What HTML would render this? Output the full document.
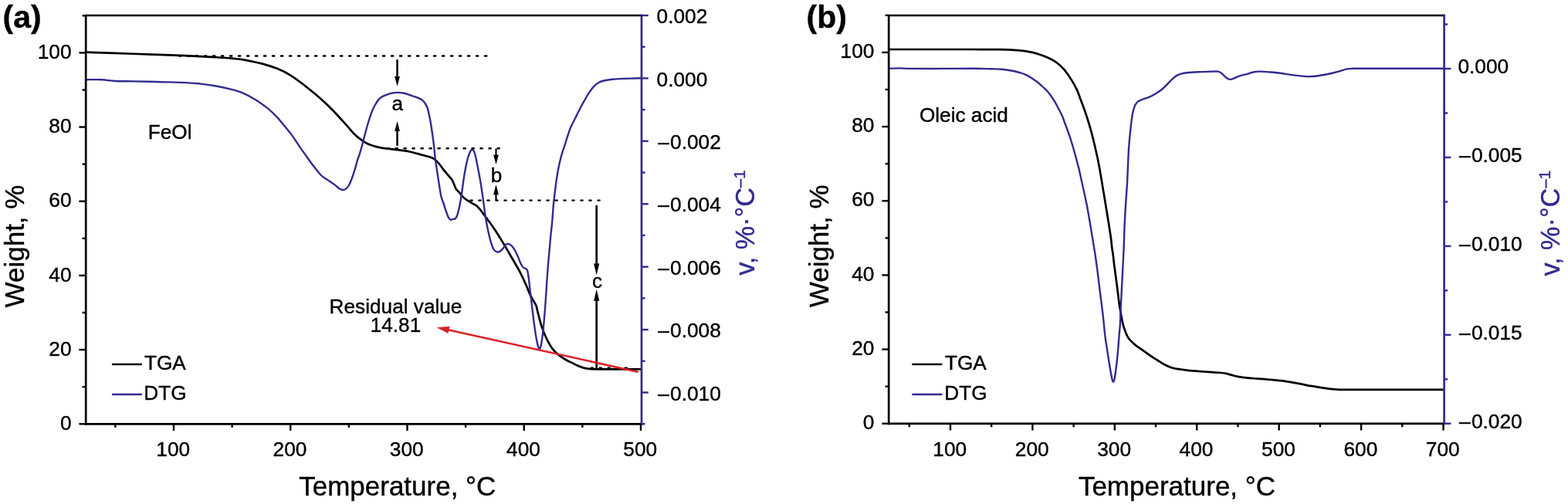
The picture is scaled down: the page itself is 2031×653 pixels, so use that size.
<!DOCTYPE html>
<html lang="en">
<head>
<meta charset="utf-8">
<title>TGA and DTG curves of FeOl and oleic acid</title>
<style>
html,body{margin:0;padding:0;background:#fff;}
body{width:2031px;height:653px;overflow:hidden;}
svg{display:block;}
text{font-family:"Liberation Sans", sans-serif;fill:#000;stroke:#000;stroke-width:0.4px;stroke-linejoin:round;}
.tk{font-size:26.3px;}
.ttl{font-size:35px;}
.pn{font-size:41px;font-weight:bold;}
.an{font-size:26.2px;}
.bl{fill:#322b90;stroke:#322b90;}
</style>
</head>
<body>
<svg width="2031" height="653" viewBox="0 0 2031 653">
<rect x="0" y="0" width="2031" height="653" fill="#ffffff"/>

<path d="M111.00,67.70 C117.33,67.90 134.50,68.42 149.00,68.90 C163.50,69.38 183.70,70.10 198.00,70.60 C212.30,71.10 224.47,71.48 234.80,71.90 C245.13,72.32 252.47,72.72 260.00,73.10 C267.53,73.48 273.33,73.78 280.00,74.20 C286.67,74.62 294.12,75.08 300.00,75.60 C305.88,76.12 310.63,76.57 315.30,77.30 C319.97,78.03 323.88,79.12 328.00,80.00 C332.12,80.88 334.93,81.17 340.00,82.60 C345.07,84.03 352.27,86.07 358.40,88.60 C364.53,91.13 370.68,94.03 376.80,97.80 C382.92,101.57 388.98,106.45 395.10,111.20 C401.22,115.95 407.37,120.88 413.50,126.30 C419.63,131.72 425.77,137.43 431.90,143.70 C438.03,149.97 445.62,158.72 450.30,163.90 C454.98,169.08 456.90,171.80 460.00,174.80 C463.10,177.80 466.13,179.95 468.90,181.90 C471.67,183.85 473.78,185.22 476.60,186.50 C479.42,187.78 483.25,188.83 485.80,189.60 C488.35,190.37 489.53,190.63 491.90,191.10 C494.27,191.57 496.10,191.88 500.00,192.40 C503.90,192.92 510.20,193.52 515.30,194.20 C520.40,194.88 526.48,195.72 530.60,196.50 C534.72,197.28 537.15,198.15 540.00,198.90 C542.85,199.65 545.15,200.32 547.70,201.00 C550.25,201.68 553.02,202.28 555.30,203.00 C557.58,203.72 559.62,204.28 561.40,205.30 C563.18,206.32 564.47,207.57 566.00,209.10 C567.53,210.63 569.18,212.70 570.60,214.50 C572.02,216.30 573.22,218.23 574.50,219.90 C575.78,221.57 576.90,222.85 578.30,224.50 C579.70,226.15 581.63,228.28 582.90,229.80 C584.17,231.32 585.02,232.07 585.90,233.60 C586.78,235.13 587.43,237.20 588.20,239.00 C588.97,240.80 589.35,242.62 590.50,244.40 C591.65,246.18 593.57,247.92 595.10,249.70 C596.63,251.48 598.17,253.57 599.70,255.10 C601.23,256.63 602.52,257.63 604.30,258.90 C606.08,260.17 608.35,261.50 610.40,262.70 C612.45,263.90 615.07,265.07 616.60,266.10 C618.13,267.13 618.45,267.67 619.60,268.90 C620.75,270.13 622.22,271.85 623.50,273.50 C624.78,275.15 625.90,276.90 627.30,278.80 C628.70,280.70 630.57,283.12 631.90,284.90 C633.23,286.68 633.45,286.87 635.30,289.50 C637.15,292.13 640.45,296.80 643.00,300.70 C645.55,304.60 648.05,308.70 650.60,312.90 C653.15,317.10 655.75,321.55 658.30,325.90 C660.85,330.25 663.35,334.53 665.90,339.00 C668.45,343.47 671.10,347.87 673.60,352.70 C676.10,357.53 678.83,363.38 680.90,368.00 C682.97,372.62 684.38,376.88 686.00,380.40 C687.62,383.92 689.18,386.50 690.60,389.10 C692.02,391.70 693.60,393.82 694.50,396.00 C695.40,398.18 695.37,399.65 696.00,402.20 C696.63,404.75 697.42,407.98 698.30,411.30 C699.18,414.62 700.03,418.27 701.30,422.10 C702.57,425.93 704.10,430.22 705.90,434.30 C707.70,438.38 710.05,443.15 712.10,446.60 C714.15,450.05 716.17,452.70 718.20,455.00 C720.23,457.30 721.75,458.48 724.30,460.40 C726.85,462.32 730.88,464.97 733.50,466.50 C736.12,468.03 737.63,468.42 740.00,469.60 C742.37,470.78 745.15,472.47 747.70,473.60 C750.25,474.73 752.75,475.68 755.30,476.40 C757.85,477.12 759.93,477.58 763.00,477.90 C766.07,478.22 767.53,478.23 773.70,478.30 C779.87,478.37 790.45,478.30 800.00,478.30 C809.55,478.30 825.83,478.30 831.00,478.30" fill="none" stroke="#000" stroke-width="2.7" stroke-linejoin="round" stroke-linecap="butt"/>
<path d="M111.00,103.20 C114.48,103.20 125.57,102.90 131.90,103.20 C138.23,103.50 142.07,104.63 149.00,105.00 C155.93,105.37 163.28,105.20 173.50,105.40 C183.72,105.60 200.08,105.95 210.30,106.20 C220.52,106.45 226.52,106.50 234.80,106.90 C243.08,107.30 252.47,107.83 260.00,108.60 C267.53,109.37 273.33,110.28 280.00,111.50 C286.67,112.72 294.12,114.35 300.00,115.90 C305.88,117.45 310.20,118.63 315.30,120.80 C320.40,122.97 325.50,125.77 330.60,128.90 C335.70,132.03 341.30,135.90 345.90,139.60 C350.50,143.30 354.87,147.70 358.20,151.10 C361.53,154.50 362.53,155.92 365.90,160.00 C369.27,164.08 374.78,170.70 378.40,175.60 C382.02,180.50 384.53,184.95 387.60,189.40 C390.67,193.85 393.73,198.02 396.80,202.30 C399.87,206.58 402.95,211.12 406.00,215.10 C409.05,219.08 412.65,223.58 415.10,226.20 C417.55,228.82 418.55,229.27 420.70,230.80 C422.85,232.33 425.87,233.97 428.00,235.40 C430.13,236.83 431.67,237.97 433.50,239.40 C435.33,240.83 437.32,242.90 439.00,244.00 C440.68,245.10 442.07,245.90 443.60,246.00 C445.13,246.10 446.82,245.60 448.20,244.60 C449.58,243.60 450.67,242.15 451.90,240.00 C453.13,237.85 454.37,234.92 455.60,231.70 C456.83,228.48 458.08,224.68 459.30,220.70 C460.52,216.72 461.78,211.42 462.90,207.80 C464.02,204.18 465.00,202.17 466.00,199.00 C467.00,195.83 467.90,192.53 468.90,188.80 C469.90,185.07 470.68,181.48 472.00,176.60 C473.32,171.72 475.27,164.62 476.80,159.50 C478.33,154.38 479.70,149.82 481.20,145.90 C482.70,141.98 484.27,138.80 485.80,136.00 C487.33,133.20 488.88,130.88 490.40,129.10 C491.92,127.32 493.30,126.30 494.90,125.30 C496.50,124.30 497.87,123.87 500.00,123.10 C502.13,122.33 505.15,121.23 507.70,120.70 C510.25,120.17 512.75,119.90 515.30,119.90 C517.85,119.90 520.45,120.18 523.00,120.70 C525.55,121.22 528.05,122.18 530.60,123.00 C533.15,123.82 535.75,124.58 538.30,125.60 C540.85,126.62 543.87,127.75 545.90,129.10 C547.93,130.45 549.22,131.92 550.50,133.70 C551.78,135.48 552.70,137.25 553.60,139.80 C554.50,142.35 555.13,145.42 555.90,149.00 C556.67,152.58 557.43,156.70 558.20,161.30 C558.97,165.90 559.85,171.90 560.50,176.60 C561.15,181.30 561.57,184.72 562.10,189.50 C562.63,194.28 563.05,200.12 563.70,205.30 C564.35,210.48 565.23,215.50 566.00,220.60 C566.77,225.70 567.40,230.28 568.30,235.90 C569.20,241.52 570.37,249.70 571.40,254.30 C572.43,258.90 573.48,260.43 574.50,263.50 C575.52,266.57 576.48,269.77 577.50,272.70 C578.52,275.63 579.58,279.12 580.60,281.10 C581.62,283.08 582.58,284.13 583.60,284.60 C584.62,285.07 585.80,284.05 586.70,283.90 C587.60,283.75 588.23,284.17 589.00,283.70 C589.77,283.23 590.53,282.68 591.30,281.10 C592.07,279.52 592.83,277.13 593.60,274.20 C594.37,271.27 595.13,267.58 595.90,263.50 C596.67,259.42 597.43,254.80 598.20,249.70 C598.97,244.60 599.73,238.00 600.50,232.90 C601.27,227.80 601.92,223.70 602.80,219.10 C603.68,214.50 604.78,209.00 605.80,205.30 C606.82,201.60 607.92,198.82 608.90,196.90 C609.88,194.98 610.80,193.80 611.70,193.80 C612.60,193.80 613.48,194.98 614.30,196.90 C615.12,198.82 615.72,201.35 616.60,205.30 C617.48,209.25 618.58,215.23 619.60,220.60 C620.62,225.97 621.80,232.13 622.70,237.50 C623.60,242.87 624.23,247.45 625.00,252.80 C625.77,258.15 626.67,264.98 627.30,269.60 C627.93,274.22 628.23,276.85 628.80,280.50 C629.37,284.15 629.87,287.25 630.70,291.50 C631.53,295.75 632.78,301.78 633.80,306.00 C634.82,310.22 635.78,313.87 636.80,316.80 C637.82,319.73 638.75,322.00 639.90,323.60 C641.05,325.20 642.42,326.07 643.70,326.40 C644.98,326.73 646.32,326.32 647.60,325.60 C648.88,324.88 650.25,323.45 651.40,322.10 C652.55,320.75 653.48,318.52 654.50,317.50 C655.52,316.48 656.48,316.12 657.50,316.00 C658.52,315.88 659.58,316.22 660.60,316.80 C661.62,317.38 662.45,318.10 663.60,319.50 C664.75,320.90 666.22,322.85 667.50,325.20 C668.78,327.55 670.15,330.92 671.30,333.60 C672.45,336.28 673.38,339.18 674.40,341.30 C675.42,343.42 676.38,345.22 677.40,346.30 C678.42,347.38 679.60,347.23 680.50,347.80 C681.40,348.37 682.22,348.50 682.80,349.70 C683.38,350.90 683.62,352.83 684.00,355.00 C684.38,357.17 684.77,360.03 685.10,362.70 C685.43,365.37 685.60,367.45 686.00,371.00 C686.40,374.55 686.85,378.55 687.50,384.00 C688.15,389.45 689.12,397.35 689.90,403.70 C690.68,410.05 691.43,416.48 692.20,422.10 C692.97,427.72 693.73,433.07 694.50,437.40 C695.27,441.73 696.12,445.68 696.80,448.10 C697.48,450.52 697.97,451.90 698.60,451.90 C699.23,451.90 699.93,450.77 700.60,448.10 C701.27,445.43 701.97,440.75 702.60,435.90 C703.23,431.05 703.85,424.88 704.40,419.00 C704.95,413.12 705.42,406.85 705.90,400.60 C706.38,394.35 706.82,388.60 707.30,381.50 C707.78,374.40 708.28,365.22 708.80,358.00 C709.32,350.78 709.88,344.32 710.40,338.20 C710.92,332.08 711.40,326.92 711.90,321.30 C712.40,315.68 712.90,309.60 713.40,304.50 C713.90,299.40 714.50,294.78 714.90,290.70 C715.30,286.62 715.48,284.15 715.80,280.00 C716.12,275.85 716.37,270.47 716.80,265.80 C717.23,261.13 717.75,257.37 718.40,252.00 C719.05,246.63 719.93,238.97 720.70,233.60 C721.47,228.23 722.12,224.40 723.00,219.80 C723.88,215.20 724.98,210.08 726.00,206.00 C727.02,201.92 728.07,198.62 729.10,195.30 C730.13,191.98 731.25,189.07 732.20,186.10 C733.15,183.13 733.63,181.02 734.80,177.50 C735.97,173.98 737.45,169.12 739.20,165.00 C740.95,160.88 743.27,156.88 745.30,152.80 C747.33,148.72 749.35,144.45 751.40,140.50 C753.45,136.55 755.55,132.67 757.60,129.10 C759.65,125.53 761.67,122.05 763.70,119.10 C765.73,116.15 767.77,113.45 769.80,111.40 C771.83,109.35 773.85,107.95 775.90,106.80 C777.95,105.65 779.53,105.13 782.10,104.50 C784.67,103.87 787.22,103.43 791.30,103.00 C795.38,102.57 801.50,102.15 806.60,101.90 C811.70,101.65 817.83,101.62 821.90,101.50 C825.97,101.38 829.48,101.25 831.00,101.20" fill="none" stroke="#322b90" stroke-width="2.4" stroke-linejoin="round" stroke-linecap="butt"/>
<line x1="232.0" y1="72.5" x2="631.5" y2="72.5" stroke="#000" stroke-width="2.4" stroke-dasharray="2.3 8.7" stroke-dashoffset="0" stroke-linecap="round"/>
<line x1="501.5" y1="192.3" x2="648.5" y2="192.3" stroke="#000" stroke-width="2.4" stroke-dasharray="2.3 8.7" stroke-dashoffset="0" stroke-linecap="round"/>
<line x1="609.4" y1="259.6" x2="778" y2="259.6" stroke="#000" stroke-width="2.4" stroke-dasharray="2.3 8.7" stroke-dashoffset="0" stroke-linecap="round"/>
<line x1="765.7" y1="476.7" x2="813" y2="476.7" stroke="#000" stroke-width="2.4" stroke-dasharray="2.3 8.7" stroke-dashoffset="0" stroke-linecap="round"/>
<line x1="514.55" y1="77.2" x2="514.55" y2="101.10000000000001" stroke="#000" stroke-width="2.5"/><polygon points="514.55,111.7 511.15,99.10000000000001 517.9499999999999,99.10000000000001" fill="#000"/>
<line x1="514.55" y1="188.8" x2="514.55" y2="167.9" stroke="#000" stroke-width="2.5"/><polygon points="514.55,157.3 511.15,169.9 517.9499999999999,169.9" fill="#000"/>
<line x1="642.5" y1="192.5" x2="642.5" y2="202.7" stroke="#000" stroke-width="2.2"/><polygon points="642.5,213.1 639.1,200.7 645.9,200.7" fill="#000"/>
<line x1="642.5" y1="259.3" x2="642.5" y2="250.3" stroke="#000" stroke-width="2.2"/><polygon points="642.5,239.3 639.1,252.3 645.9,252.3" fill="#000"/>
<line x1="772.7" y1="266.1" x2="772.7" y2="343.6" stroke="#000" stroke-width="2.7"/><polygon points="772.7,356.6 769.1,341.6 776.3000000000001,341.6" fill="#000"/>
<line x1="772.7" y1="477.9" x2="772.7" y2="387.8" stroke="#000" stroke-width="2.7"/><polygon points="772.7,374.8 769.1,389.8 776.3000000000001,389.8" fill="#000"/>
<line x1="826.7" y1="482.0" x2="580" y2="427.2" stroke="#da2128" stroke-width="2.5"/>
<polygon points="566.4,424.4 582.3,423.2 580.3,431.6" fill="#da2128" stroke="#da2128" stroke-width="0.6" stroke-linejoin="round"/>
<line x1="146.2" y1="472.0" x2="182.8" y2="472.0" stroke="#000" stroke-width="2.7" stroke-linecap="round"/>
<line x1="146.2" y1="511.0" x2="182.8" y2="511.0" stroke="#322b90" stroke-width="2.7" stroke-linecap="round"/>
<path d="M111.2,549.3 L111.2,20.0 L831.0,20.0" fill="none" stroke="#000" stroke-width="2.7" stroke-linecap="square"/>
<path d="M111.2,549.3 L831.0,549.3" fill="none" stroke="#000" stroke-width="2.7" stroke-linecap="square"/>
<line x1="831.0" y1="18.7" x2="831.0" y2="550.5999999999999" stroke="#322b90" stroke-width="2.7"/>
<line x1="102.4" y1="549.30" x2="111.2" y2="549.30" stroke="#000" stroke-width="2.4"/>
<line x1="106.60000000000001" y1="501.21" x2="111.2" y2="501.21" stroke="#000" stroke-width="2.4"/>
<line x1="102.4" y1="453.12" x2="111.2" y2="453.12" stroke="#000" stroke-width="2.4"/>
<line x1="106.60000000000001" y1="405.03" x2="111.2" y2="405.03" stroke="#000" stroke-width="2.4"/>
<line x1="102.4" y1="356.94" x2="111.2" y2="356.94" stroke="#000" stroke-width="2.4"/>
<line x1="106.60000000000001" y1="308.85" x2="111.2" y2="308.85" stroke="#000" stroke-width="2.4"/>
<line x1="102.4" y1="260.76" x2="111.2" y2="260.76" stroke="#000" stroke-width="2.4"/>
<line x1="106.60000000000001" y1="212.67" x2="111.2" y2="212.67" stroke="#000" stroke-width="2.4"/>
<line x1="102.4" y1="164.58" x2="111.2" y2="164.58" stroke="#000" stroke-width="2.4"/>
<line x1="106.60000000000001" y1="116.49" x2="111.2" y2="116.49" stroke="#000" stroke-width="2.4"/>
<line x1="102.4" y1="68.40" x2="111.2" y2="68.40" stroke="#000" stroke-width="2.4"/>
<line x1="106.60000000000001" y1="20.31" x2="111.2" y2="20.31" stroke="#000" stroke-width="2.4"/>
<line x1="149.38" y1="549.3" x2="149.38" y2="553.9" stroke="#000" stroke-width="2.4"/>
<line x1="225.00" y1="549.3" x2="225.00" y2="558.0999999999999" stroke="#000" stroke-width="2.4"/>
<line x1="300.62" y1="549.3" x2="300.62" y2="553.9" stroke="#000" stroke-width="2.4"/>
<line x1="376.25" y1="549.3" x2="376.25" y2="558.0999999999999" stroke="#000" stroke-width="2.4"/>
<line x1="451.88" y1="549.3" x2="451.88" y2="553.9" stroke="#000" stroke-width="2.4"/>
<line x1="527.50" y1="549.3" x2="527.50" y2="558.0999999999999" stroke="#000" stroke-width="2.4"/>
<line x1="603.12" y1="549.3" x2="603.12" y2="553.9" stroke="#000" stroke-width="2.4"/>
<line x1="678.75" y1="549.3" x2="678.75" y2="558.0999999999999" stroke="#000" stroke-width="2.4"/>
<line x1="754.38" y1="549.3" x2="754.38" y2="553.9" stroke="#000" stroke-width="2.4"/>
<line x1="830.00" y1="549.3" x2="830.00" y2="558.0999999999999" stroke="#000" stroke-width="2.4"/>
<line x1="831.0" y1="549.23" x2="835.6" y2="549.23" stroke="#322b90" stroke-width="2.4"/>
<line x1="831.0" y1="508.52" x2="839.8" y2="508.52" stroke="#322b90" stroke-width="2.4"/>
<line x1="831.0" y1="467.81" x2="835.6" y2="467.81" stroke="#322b90" stroke-width="2.4"/>
<line x1="831.0" y1="427.10" x2="839.8" y2="427.10" stroke="#322b90" stroke-width="2.4"/>
<line x1="831.0" y1="386.39" x2="835.6" y2="386.39" stroke="#322b90" stroke-width="2.4"/>
<line x1="831.0" y1="345.68" x2="839.8" y2="345.68" stroke="#322b90" stroke-width="2.4"/>
<line x1="831.0" y1="304.97" x2="835.6" y2="304.97" stroke="#322b90" stroke-width="2.4"/>
<line x1="831.0" y1="264.26" x2="839.8" y2="264.26" stroke="#322b90" stroke-width="2.4"/>
<line x1="831.0" y1="223.55" x2="835.6" y2="223.55" stroke="#322b90" stroke-width="2.4"/>
<line x1="831.0" y1="182.84" x2="839.8" y2="182.84" stroke="#322b90" stroke-width="2.4"/>
<line x1="831.0" y1="142.13" x2="835.6" y2="142.13" stroke="#322b90" stroke-width="2.4"/>
<line x1="831.0" y1="101.42" x2="839.8" y2="101.42" stroke="#322b90" stroke-width="2.4"/>
<line x1="831.0" y1="60.71" x2="835.6" y2="60.71" stroke="#322b90" stroke-width="2.4"/>
<line x1="831.0" y1="20.00" x2="839.8" y2="20.00" stroke="#322b90" stroke-width="2.4"/>
<text class="tk" x="92.6" y="556.95" text-anchor="end">0</text>
<text class="tk" x="92.6" y="460.77" text-anchor="end">20</text>
<text class="tk" x="92.6" y="364.59" text-anchor="end">40</text>
<text class="tk" x="92.6" y="268.41" text-anchor="end">60</text>
<text class="tk" x="92.6" y="172.23" text-anchor="end">80</text>
<text class="tk" x="92.6" y="76.05" text-anchor="end">100</text>
<text class="tk" x="224.30" y="591.3" text-anchor="middle">100</text>
<text class="tk" x="375.55" y="591.3" text-anchor="middle">200</text>
<text class="tk" x="526.80" y="591.3" text-anchor="middle">300</text>
<text class="tk" x="678.05" y="591.3" text-anchor="middle">400</text>
<text class="tk" x="829.30" y="591.3" text-anchor="middle">500</text>
<text class="tk" x="852.20" y="518.72" text-anchor="start">–<tspan dx="1.2">0.010</tspan></text>
<text class="tk" x="852.20" y="437.30" text-anchor="start">–<tspan dx="1.2">0.008</tspan></text>
<text class="tk" x="852.20" y="355.88" text-anchor="start">–<tspan dx="1.2">0.006</tspan></text>
<text class="tk" x="852.20" y="274.46" text-anchor="start">–<tspan dx="1.2">0.004</tspan></text>
<text class="tk" x="852.20" y="193.04" text-anchor="start">–<tspan dx="1.2">0.002</tspan></text>
<text class="tk" x="850.50" y="111.62" text-anchor="start">0.000</text>
<text class="tk" x="850.50" y="30.20" text-anchor="start">0.002</text>
<text class="pn" x="3.6" y="35.5">(a)</text>
<text class="an" x="191.8" y="179.8">FeOl</text>
<text class="an" x="514.8" y="143" text-anchor="middle">a</text>
<text class="an" x="643" y="236.1" text-anchor="middle">b</text>
<text class="an" x="773.6" y="372.8" text-anchor="middle">c</text>
<text class="an" x="512.5" y="406" text-anchor="middle">Residual value</text>
<text class="an" x="512.5" y="430" text-anchor="middle">14.81</text>
<text class="an" x="187" y="479">TGA</text>
<text class="an" x="186.3" y="518.3">DTG</text>
<text class="ttl" x="514.8" y="641.7" text-anchor="middle">Temperature, °C</text>
<text class="ttl" transform="translate(30.5,319) rotate(-90)" text-anchor="middle">Weight, %</text>
<text class="ttl bl" style="font-size:34.2px" transform="translate(976.8,288.6) rotate(-90)" text-anchor="middle">v, %·°C<tspan dy="-11.5" font-size="20.5">–1</tspan></text>
<path d="M1151.20,64.00 C1159.33,64.00 1181.87,64.00 1200.00,64.00 C1218.13,64.00 1245.00,63.98 1260.00,64.00 C1275.00,64.02 1282.45,64.05 1290.00,64.10 C1297.55,64.15 1300.20,64.10 1305.30,64.30 C1310.40,64.50 1315.50,64.75 1320.60,65.30 C1325.70,65.85 1330.78,66.45 1335.90,67.60 C1341.02,68.75 1347.28,70.80 1351.30,72.20 C1355.32,73.60 1357.02,74.45 1360.00,76.00 C1362.98,77.55 1366.13,79.13 1369.20,81.50 C1372.27,83.87 1375.33,86.60 1378.40,90.20 C1381.47,93.80 1384.85,98.73 1387.60,103.10 C1390.35,107.47 1392.83,111.95 1394.90,116.40 C1396.97,120.85 1398.77,126.57 1400.00,129.80 C1401.23,133.03 1401.00,132.18 1402.30,135.80 C1403.60,139.42 1405.97,145.82 1407.80,151.50 C1409.63,157.18 1411.62,163.78 1413.30,169.90 C1414.98,176.02 1416.52,182.38 1417.90,188.20 C1419.28,194.02 1420.52,199.67 1421.60,204.80 C1422.68,209.93 1423.52,214.15 1424.40,219.00 C1425.28,223.85 1425.72,226.82 1426.90,233.90 C1428.08,240.98 1430.13,253.23 1431.50,261.50 C1432.87,269.77 1433.88,275.85 1435.10,283.50 C1436.32,291.15 1437.93,301.15 1438.80,307.40 C1439.67,313.65 1439.82,317.23 1440.30,321.00 C1440.78,324.77 1441.20,326.18 1441.70,330.00 C1442.20,333.82 1442.42,336.98 1443.30,343.90 C1444.18,350.82 1445.93,363.23 1447.00,371.50 C1448.07,379.77 1448.78,387.07 1449.70,393.50 C1450.62,399.93 1451.63,405.43 1452.50,410.10 C1453.37,414.77 1454.07,418.32 1454.90,421.50 C1455.73,424.68 1456.57,426.77 1457.50,429.20 C1458.43,431.63 1459.45,434.20 1460.50,436.10 C1461.55,438.00 1462.00,438.68 1463.80,440.60 C1465.60,442.52 1468.78,445.55 1471.30,447.60 C1473.82,449.65 1476.35,451.12 1478.90,452.90 C1481.45,454.68 1484.05,456.52 1486.60,458.30 C1489.15,460.08 1491.65,461.92 1494.20,463.60 C1496.75,465.28 1499.50,466.92 1501.90,468.40 C1504.30,469.88 1506.05,471.20 1508.60,472.50 C1511.15,473.80 1514.35,475.27 1517.20,476.20 C1520.05,477.13 1522.13,477.50 1525.70,478.10 C1529.27,478.70 1533.95,479.30 1538.60,479.80 C1543.25,480.30 1548.60,480.70 1553.60,481.10 C1558.60,481.50 1563.95,481.88 1568.60,482.20 C1573.25,482.52 1578.28,482.72 1581.50,483.00 C1584.72,483.28 1585.77,483.47 1587.90,483.90 C1590.03,484.33 1591.80,484.95 1594.30,485.60 C1596.80,486.25 1599.32,487.12 1602.90,487.80 C1606.48,488.48 1611.52,489.23 1615.80,489.70 C1620.08,490.17 1623.37,490.22 1628.60,490.60 C1633.83,490.98 1641.25,491.47 1647.20,492.00 C1653.15,492.53 1658.58,493.00 1664.30,493.80 C1670.02,494.60 1675.78,495.73 1681.50,496.80 C1687.22,497.87 1692.88,499.20 1698.60,500.20 C1704.32,501.20 1710.80,502.12 1715.80,502.80 C1720.80,503.48 1724.68,503.95 1728.60,504.30 C1732.52,504.65 1734.07,504.80 1739.30,504.90 C1744.53,505.00 1749.88,504.90 1760.00,504.90 C1770.12,504.90 1781.57,504.90 1800.00,504.90 C1818.43,504.90 1858.83,504.90 1870.60,504.90" fill="none" stroke="#000" stroke-width="2.7" stroke-linejoin="round" stroke-linecap="butt"/>
<path d="M1151.20,88.70 C1153.62,88.65 1160.90,88.37 1165.70,88.40 C1170.50,88.43 1170.95,88.82 1180.00,88.90 C1189.05,88.98 1206.67,88.92 1220.00,88.90 C1233.33,88.88 1249.53,88.75 1260.00,88.80 C1270.47,88.85 1277.80,89.10 1282.80,89.20 C1287.80,89.30 1287.63,89.30 1290.00,89.40 C1292.37,89.50 1294.45,89.58 1297.00,89.80 C1299.55,90.02 1302.63,90.33 1305.30,90.70 C1307.97,91.07 1310.45,91.45 1313.00,92.00 C1315.55,92.55 1318.05,93.22 1320.60,94.00 C1323.15,94.78 1325.75,95.55 1328.30,96.70 C1330.85,97.85 1333.35,99.32 1335.90,100.90 C1338.45,102.48 1341.03,104.18 1343.60,106.20 C1346.17,108.22 1348.75,110.55 1351.30,113.00 C1353.85,115.45 1356.35,117.67 1358.90,120.90 C1361.45,124.13 1364.55,129.03 1366.60,132.40 C1368.65,135.77 1369.67,138.17 1371.20,141.10 C1372.73,144.03 1374.60,147.35 1375.80,150.00 C1377.00,152.65 1376.75,152.47 1378.40,157.00 C1380.05,161.53 1383.55,170.77 1385.70,177.20 C1387.85,183.63 1389.67,189.97 1391.30,195.60 C1392.93,201.23 1394.42,206.93 1395.50,211.00 C1396.58,215.07 1396.70,215.27 1397.80,220.00 C1398.90,224.73 1400.47,231.88 1402.10,239.40 C1403.73,246.92 1405.92,256.52 1407.60,265.10 C1409.28,273.68 1410.83,282.93 1412.20,290.90 C1413.57,298.87 1414.73,306.38 1415.80,312.90 C1416.87,319.42 1417.68,323.92 1418.60,330.00 C1419.52,336.08 1420.25,341.27 1421.30,349.40 C1422.35,357.53 1423.68,369.00 1424.90,378.80 C1426.12,388.60 1427.52,398.78 1428.60,408.20 C1429.68,417.62 1430.55,428.23 1431.40,435.30 C1432.25,442.37 1432.93,445.50 1433.70,450.60 C1434.47,455.70 1435.23,461.05 1436.00,465.90 C1436.77,470.75 1437.58,475.62 1438.30,479.70 C1439.02,483.78 1439.70,487.90 1440.30,490.40 C1440.90,492.90 1441.33,494.70 1441.90,494.70 C1442.47,494.70 1443.10,493.15 1443.70,490.40 C1444.30,487.65 1444.93,482.53 1445.50,478.20 C1446.07,473.87 1446.58,469.50 1447.10,464.40 C1447.62,459.30 1448.15,452.95 1448.60,447.60 C1449.05,442.25 1449.42,436.90 1449.80,432.30 C1450.18,427.70 1450.60,425.23 1450.90,420.00 C1451.20,414.77 1451.27,408.38 1451.60,400.90 C1451.93,393.42 1452.45,383.98 1452.90,375.10 C1453.35,366.22 1453.85,356.45 1454.30,347.60 C1454.75,338.75 1455.22,331.15 1455.60,322.00 C1455.98,312.85 1456.18,302.18 1456.60,292.70 C1457.02,283.22 1457.53,274.28 1458.10,265.10 C1458.67,255.92 1459.52,245.95 1460.00,237.60 C1460.48,229.25 1460.65,222.62 1461.00,215.00 C1461.35,207.38 1461.63,198.90 1462.10,191.90 C1462.57,184.90 1463.22,178.87 1463.80,173.00 C1464.38,167.13 1464.97,161.45 1465.60,156.70 C1466.23,151.95 1466.83,147.87 1467.60,144.50 C1468.37,141.13 1469.15,138.65 1470.20,136.50 C1471.25,134.35 1472.25,132.90 1473.90,131.60 C1475.55,130.30 1477.82,129.62 1480.10,128.70 C1482.38,127.78 1484.82,127.30 1487.60,126.10 C1490.38,124.90 1493.73,123.35 1496.80,121.50 C1499.87,119.65 1503.25,117.30 1506.00,115.00 C1508.75,112.70 1511.17,109.83 1513.30,107.70 C1515.43,105.57 1516.97,103.83 1518.80,102.20 C1520.63,100.57 1522.45,98.98 1524.30,97.90 C1526.15,96.82 1527.75,96.30 1529.90,95.70 C1532.05,95.10 1533.53,94.70 1537.20,94.30 C1540.87,93.90 1547.00,93.55 1551.90,93.30 C1556.80,93.05 1562.38,92.92 1566.60,92.80 C1570.82,92.68 1574.73,92.35 1577.20,92.60 C1579.67,92.85 1579.98,93.37 1581.40,94.30 C1582.82,95.23 1584.27,96.95 1585.70,98.20 C1587.13,99.45 1588.63,101.02 1590.00,101.80 C1591.37,102.58 1592.47,102.97 1593.90,102.90 C1595.33,102.83 1596.75,102.12 1598.60,101.40 C1600.45,100.68 1602.15,99.53 1605.00,98.60 C1607.85,97.67 1612.48,96.70 1615.70,95.80 C1618.92,94.90 1621.43,93.73 1624.30,93.20 C1627.17,92.67 1629.32,92.55 1632.90,92.60 C1636.48,92.65 1641.52,93.13 1645.80,93.50 C1650.08,93.87 1654.32,94.23 1658.60,94.80 C1662.88,95.37 1667.20,96.30 1671.50,96.90 C1675.80,97.50 1680.83,98.03 1684.40,98.40 C1687.97,98.77 1690.30,99.00 1692.90,99.10 C1695.50,99.20 1697.62,99.15 1700.00,99.00 C1702.38,98.85 1703.87,98.70 1707.20,98.20 C1710.53,97.70 1715.72,96.90 1720.00,96.00 C1724.28,95.10 1728.97,93.87 1732.90,92.80 C1736.83,91.73 1740.38,90.27 1743.60,89.60 C1746.82,88.93 1748.63,88.93 1752.20,88.80 C1755.77,88.67 1757.03,88.80 1765.00,88.80 C1772.97,88.80 1782.40,88.80 1800.00,88.80 C1817.60,88.80 1858.83,88.80 1870.60,88.80" fill="none" stroke="#322b90" stroke-width="2.4" stroke-linejoin="round" stroke-linecap="butt"/>
<line x1="1182.5" y1="472.0" x2="1219.3" y2="472.0" stroke="#000" stroke-width="2.7" stroke-linecap="round"/>
<line x1="1182.5" y1="511.0" x2="1219.3" y2="511.0" stroke="#322b90" stroke-width="2.7" stroke-linecap="round"/>
<path d="M1151.2,548.8 L1151.2,20.0 L1870.6,20.0" fill="none" stroke="#000" stroke-width="2.7" stroke-linecap="square"/>
<path d="M1151.2,548.8 L1870.6,548.8" fill="none" stroke="#000" stroke-width="2.7" stroke-linecap="square"/>
<line x1="1870.6" y1="18.7" x2="1870.6" y2="550.0999999999999" stroke="#322b90" stroke-width="2.7"/>
<line x1="1142.4" y1="548.80" x2="1151.2" y2="548.80" stroke="#000" stroke-width="2.4"/>
<line x1="1146.6000000000001" y1="500.71" x2="1151.2" y2="500.71" stroke="#000" stroke-width="2.4"/>
<line x1="1142.4" y1="452.62" x2="1151.2" y2="452.62" stroke="#000" stroke-width="2.4"/>
<line x1="1146.6000000000001" y1="404.53" x2="1151.2" y2="404.53" stroke="#000" stroke-width="2.4"/>
<line x1="1142.4" y1="356.44" x2="1151.2" y2="356.44" stroke="#000" stroke-width="2.4"/>
<line x1="1146.6000000000001" y1="308.35" x2="1151.2" y2="308.35" stroke="#000" stroke-width="2.4"/>
<line x1="1142.4" y1="260.26" x2="1151.2" y2="260.26" stroke="#000" stroke-width="2.4"/>
<line x1="1146.6000000000001" y1="212.17" x2="1151.2" y2="212.17" stroke="#000" stroke-width="2.4"/>
<line x1="1142.4" y1="164.08" x2="1151.2" y2="164.08" stroke="#000" stroke-width="2.4"/>
<line x1="1146.6000000000001" y1="115.99" x2="1151.2" y2="115.99" stroke="#000" stroke-width="2.4"/>
<line x1="1142.4" y1="67.90" x2="1151.2" y2="67.90" stroke="#000" stroke-width="2.4"/>
<line x1="1146.6000000000001" y1="19.81" x2="1151.2" y2="19.81" stroke="#000" stroke-width="2.4"/>
<line x1="1177.79" y1="548.8" x2="1177.79" y2="553.4" stroke="#000" stroke-width="2.4"/>
<line x1="1231.00" y1="548.8" x2="1231.00" y2="557.5999999999999" stroke="#000" stroke-width="2.4"/>
<line x1="1284.21" y1="548.8" x2="1284.21" y2="553.4" stroke="#000" stroke-width="2.4"/>
<line x1="1337.42" y1="548.8" x2="1337.42" y2="557.5999999999999" stroke="#000" stroke-width="2.4"/>
<line x1="1390.63" y1="548.8" x2="1390.63" y2="553.4" stroke="#000" stroke-width="2.4"/>
<line x1="1443.84" y1="548.8" x2="1443.84" y2="557.5999999999999" stroke="#000" stroke-width="2.4"/>
<line x1="1497.05" y1="548.8" x2="1497.05" y2="553.4" stroke="#000" stroke-width="2.4"/>
<line x1="1550.26" y1="548.8" x2="1550.26" y2="557.5999999999999" stroke="#000" stroke-width="2.4"/>
<line x1="1603.47" y1="548.8" x2="1603.47" y2="553.4" stroke="#000" stroke-width="2.4"/>
<line x1="1656.68" y1="548.8" x2="1656.68" y2="557.5999999999999" stroke="#000" stroke-width="2.4"/>
<line x1="1709.89" y1="548.8" x2="1709.89" y2="553.4" stroke="#000" stroke-width="2.4"/>
<line x1="1763.10" y1="548.8" x2="1763.10" y2="557.5999999999999" stroke="#000" stroke-width="2.4"/>
<line x1="1816.31" y1="548.8" x2="1816.31" y2="553.4" stroke="#000" stroke-width="2.4"/>
<line x1="1869.52" y1="548.8" x2="1869.52" y2="557.5999999999999" stroke="#000" stroke-width="2.4"/>
<line x1="1870.6" y1="548.80" x2="1879.3999999999999" y2="548.80" stroke="#322b90" stroke-width="2.4"/>
<line x1="1870.6" y1="491.33" x2="1875.1999999999998" y2="491.33" stroke="#322b90" stroke-width="2.4"/>
<line x1="1870.6" y1="433.85" x2="1879.3999999999999" y2="433.85" stroke="#322b90" stroke-width="2.4"/>
<line x1="1870.6" y1="376.38" x2="1875.1999999999998" y2="376.38" stroke="#322b90" stroke-width="2.4"/>
<line x1="1870.6" y1="318.90" x2="1879.3999999999999" y2="318.90" stroke="#322b90" stroke-width="2.4"/>
<line x1="1870.6" y1="261.43" x2="1875.1999999999998" y2="261.43" stroke="#322b90" stroke-width="2.4"/>
<line x1="1870.6" y1="203.95" x2="1879.3999999999999" y2="203.95" stroke="#322b90" stroke-width="2.4"/>
<line x1="1870.6" y1="146.47" x2="1875.1999999999998" y2="146.47" stroke="#322b90" stroke-width="2.4"/>
<line x1="1870.6" y1="89.00" x2="1879.3999999999999" y2="89.00" stroke="#322b90" stroke-width="2.4"/>
<line x1="1870.6" y1="31.52" x2="1875.1999999999998" y2="31.52" stroke="#322b90" stroke-width="2.4"/>
<text class="tk" x="1132.4" y="556.00" text-anchor="end">0</text>
<text class="tk" x="1132.4" y="459.82" text-anchor="end">20</text>
<text class="tk" x="1132.4" y="363.64" text-anchor="end">40</text>
<text class="tk" x="1132.4" y="267.46" text-anchor="end">60</text>
<text class="tk" x="1132.4" y="171.28" text-anchor="end">80</text>
<text class="tk" x="1132.4" y="75.10" text-anchor="end">100</text>
<text class="tk" x="1230.30" y="591.3" text-anchor="middle">100</text>
<text class="tk" x="1336.72" y="591.3" text-anchor="middle">200</text>
<text class="tk" x="1443.14" y="591.3" text-anchor="middle">300</text>
<text class="tk" x="1549.56" y="591.3" text-anchor="middle">400</text>
<text class="tk" x="1655.98" y="591.3" text-anchor="middle">500</text>
<text class="tk" x="1762.40" y="591.3" text-anchor="middle">600</text>
<text class="tk" x="1868.82" y="591.3" text-anchor="middle">700</text>
<text class="tk" x="1890.10" y="555.00" text-anchor="start">–<tspan dx="1.2">0.020</tspan></text>
<text class="tk" x="1890.10" y="440.05" text-anchor="start">–<tspan dx="1.2">0.015</tspan></text>
<text class="tk" x="1890.10" y="325.10" text-anchor="start">–<tspan dx="1.2">0.010</tspan></text>
<text class="tk" x="1890.10" y="210.15" text-anchor="start">–<tspan dx="1.2">0.005</tspan></text>
<text class="tk" x="1888.40" y="95.20" text-anchor="start">0.000</text>
<text class="pn" x="1044.6" y="35.6">(b)</text>
<text class="an" x="1190.9" y="158">Oleic acid</text>
<text class="an" x="1224" y="479">TGA</text>
<text class="an" x="1223.3" y="518.3">DTG</text>
<text class="ttl" x="1524.5" y="641.7" text-anchor="middle">Temperature, °C</text>
<text class="ttl" transform="translate(1072.8,318.8) rotate(-90)" text-anchor="middle">Weight, %</text>
<text class="ttl bl" style="font-size:34.2px" transform="translate(2019.8,289.2) rotate(-90)" text-anchor="middle">v, %·°C<tspan dy="-11.5" font-size="20.5">–1</tspan></text>
</svg>
</body>
</html>
